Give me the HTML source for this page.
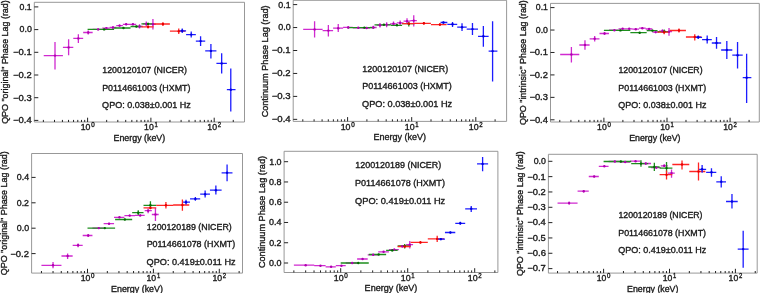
<!DOCTYPE html>
<html><head><meta charset="utf-8"><style>
html,body{margin:0;padding:0;background:#fff;width:760px;height:293px;overflow:hidden}
svg{display:block;font-family:"Liberation Sans",sans-serif;-webkit-font-smoothing:antialiased;will-change:transform}
</style></head><body><div id="w">
<svg width="760" height="293" viewBox="0 0 760 293" font-family='Liberation Sans, sans-serif' fill="#1a1a1a" stroke-linejoin="round">
<g><path d="M43.73 55.6H62.91M55 42V69.6M62.91 47.4H73.29M68.61 39.2V55.3M73.29 38.4H83.17M78.36 34.3V43.1M83.17 32.5H92.66M88.23 30.4V34.5M92.66 29.4H102.29M98.17 28.6V30.2M102.29 28.1H109.69M106.4 27.2V29M109.69 27.5H116.27M112.98 26.3V29.2M116.27 25.6H122.86M119.57 24.5V26.7M122.86 24.3H129.5M126.15 23.3V25.3M129.5 24.3H136.21M132.92 23.3V25.3M136.21 26.5H142.86M139.51 24.3V28.6M142.86 23.9H149.63M146.28 21.4V26.2M149.63 24.2H155.96M152.93 19V29.6" stroke="#d02ad0" stroke-width="1.3" fill="none"/>
<path d="M87.6 29.4H114.12M104.18 29V29.8M114.12 28H130.52M123.49 27.5V28.5M130.52 26.5H141.41M136.34 25.8V27.2M141.41 23.9H153.69M148.05 22.8V25" stroke="#1e8e1e" stroke-width="1.3" fill="none"/>
<path d="M141.41 26.8H153.62M148.05 25.5V28.4M153.62 24H169.89M162.93 22.2V25.9M169.89 31.2H185.34M178.75 28.4V34" stroke="#ff2424" stroke-width="1.3" fill="none"/>
<path d="M179.38 30.8H186.09M182.23 28.4V32.9M186.09 34.6H195.84M191.22 31.6V37.5M195.84 41.1H205.21M200.59 36.3V45.9M205.21 50.9H216.42M210.91 43.9V58.4M216.42 63.4H226.86M221.67 53.2V73.5M226.86 89.7H235.53M230.78 68.4V111.4" stroke="#1c1cff" stroke-width="1.3" fill="none"/>
<g fill="#b000b0"><circle cx="55" cy="55.6" r="1.2"/><circle cx="68.61" cy="47.4" r="1.2"/><circle cx="78.36" cy="38.4" r="1.2"/><circle cx="88.23" cy="32.5" r="1.2"/><circle cx="98.17" cy="29.4" r="1.2"/><circle cx="106.4" cy="28.1" r="1.2"/><circle cx="112.98" cy="27.5" r="1.2"/><circle cx="119.57" cy="25.6" r="1.2"/><circle cx="126.15" cy="24.3" r="1.2"/><circle cx="132.92" cy="24.3" r="1.2"/><circle cx="139.51" cy="26.5" r="1.2"/><circle cx="146.28" cy="23.9" r="1.2"/><circle cx="152.93" cy="24.2" r="1.2"/></g>
<g fill="#006a00"><circle cx="104.18" cy="29.4" r="1.2"/><circle cx="123.49" cy="28" r="1.2"/><circle cx="136.34" cy="26.5" r="1.2"/><circle cx="148.05" cy="23.9" r="1.2"/></g>
<g fill="#e80000"><circle cx="148.05" cy="26.8" r="1.2"/><circle cx="162.93" cy="24" r="1.2"/><circle cx="178.75" cy="31.2" r="1.2"/></g>
<g fill="#0000e0"><circle cx="182.23" cy="30.8" r="1.2"/><circle cx="191.22" cy="34.6" r="1.2"/><circle cx="200.59" cy="41.1" r="1.2"/><circle cx="210.91" cy="50.9" r="1.2"/><circle cx="221.67" cy="63.4" r="1.2"/><circle cx="230.78" cy="89.7" r="1.2"/></g>
<rect x="34.3" y="2.3" width="210.2" height="119.7" fill="none" stroke="#8c8c8c" stroke-width="0.9"/>
<path d="M43.36 122V119.9M54.5 122V119.9M62.41 122V119.9M68.54 122V119.9M73.56 122V119.9M77.79 122V119.9M81.47 122V119.9M84.7 122V119.9M87.6 122V117.7M106.66 122V119.9M117.8 122V119.9M125.71 122V119.9M131.84 122V119.9M136.86 122V119.9M141.09 122V119.9M144.77 122V119.9M148 122V119.9M150.9 122V117.7M169.96 122V119.9M181.1 122V119.9M189.01 122V119.9M195.14 122V119.9M200.16 122V119.9M204.39 122V119.9M208.07 122V119.9M211.3 122V119.9M214.2 122V117.7M233.26 122V119.9M34.3 6.9H38.3M34.3 29.6H38.3M34.3 52.3H38.3M34.3 75H38.3M34.3 97.7H38.3M34.3 120.4H38.3" stroke="#222" stroke-width="1" fill="none"/>
<text x="19.54" y="9.79" font-size="8.75" textLength="12.14" lengthAdjust="spacingAndGlyphs" stroke="#1a1a1a" stroke-width="0.36">0.1</text>
<text x="19.54" y="32.49" font-size="8.75" textLength="12.25" lengthAdjust="spacingAndGlyphs" stroke="#1a1a1a" stroke-width="0.36">0.0</text>
<text x="13.09" y="55.19" font-size="8.75" textLength="18.59" lengthAdjust="spacingAndGlyphs" stroke="#1a1a1a" stroke-width="0.36">−0.1</text>
<text x="13.09" y="77.89" font-size="8.75" textLength="18.56" lengthAdjust="spacingAndGlyphs" stroke="#1a1a1a" stroke-width="0.36">−0.2</text>
<text x="13.08" y="100.59" font-size="8.75" textLength="18.62" lengthAdjust="spacingAndGlyphs" stroke="#1a1a1a" stroke-width="0.36">−0.3</text>
<text x="13.08" y="123.29" font-size="8.75" textLength="18.68" lengthAdjust="spacingAndGlyphs" stroke="#1a1a1a" stroke-width="0.36">−0.4</text>
<text x="80.76" y="130.3" font-size="8.75" textLength="9.67" lengthAdjust="spacingAndGlyphs" stroke="#1a1a1a" stroke-width="0.36">10</text>
<text x="91.13" y="127.2" font-size="6.49" textLength="3.45" lengthAdjust="spacingAndGlyphs" stroke="#1a1a1a" stroke-width="0.36">0</text>
<text x="144.06" y="130.3" font-size="8.75" textLength="9.67" lengthAdjust="spacingAndGlyphs" stroke="#1a1a1a" stroke-width="0.36">10</text>
<text x="154.5" y="127.2" font-size="6.49" textLength="3.28" lengthAdjust="spacingAndGlyphs" stroke="#1a1a1a" stroke-width="0.36">1</text>
<text x="207.36" y="130.3" font-size="8.75" textLength="9.67" lengthAdjust="spacingAndGlyphs" stroke="#1a1a1a" stroke-width="0.36">10</text>
<text x="217.71" y="127.2" font-size="6.49" textLength="3.35" lengthAdjust="spacingAndGlyphs" stroke="#1a1a1a" stroke-width="0.36">2</text>
<text x="113.47" y="140.6" font-size="8.89" textLength="51.76" lengthAdjust="spacingAndGlyphs" stroke="#1a1a1a" stroke-width="0.36">Energy (keV)</text>
<g transform="translate(8.3 62) rotate(-90)"><text x="-61.83" y="0" font-size="8.89" textLength="123.57" lengthAdjust="spacingAndGlyphs" stroke="#1a1a1a" stroke-width="0.36">QPO &quot;original&quot; Phase Lag (rad)</text></g>
<text x="102.33" y="72.8" font-size="8.89" textLength="84.59" lengthAdjust="spacingAndGlyphs" stroke="#1a1a1a" stroke-width="0.36">1200120107 (NICER)</text>
<text x="102.15" y="90.6" font-size="8.89" textLength="88.36" lengthAdjust="spacingAndGlyphs" stroke="#1a1a1a" stroke-width="0.36">P0114661003 (HXMT)</text>
<text x="102.14" y="108.3" font-size="8.89" textLength="88.66" lengthAdjust="spacingAndGlyphs" stroke="#1a1a1a" stroke-width="0.36">QPO: 0.038±0.001 Hz</text></g>
<g><path d="M303.18 29.4H322.6M314.59 21.2V37.4M322.6 30.6H333.11M328.37 25V36.6M333.11 28.2H343.11M338.24 24.1V32M343.11 27.4H352.73M348.24 25.9V29M352.73 27.8H362.47M358.3 27V28.6M362.47 28H369.97M366.64 27.2V28.8M369.97 27.5H376.64M373.3 25.7V29.1M376.64 25.2H383.3M379.97 23.1V27.4M383.3 24.6H390.03M386.64 22.3V27.2M390.03 23.8H396.83M393.5 21.4V26.1M396.83 22.9H403.56M400.16 20.4V25.5M403.56 21.2H410.42M407.02 18.3V23.4M410.42 20.6H416.83M413.75 15.2V26.5" stroke="#d02ad0" stroke-width="1.3" fill="none"/>
<path d="M347.6 27.6H374.46M364.39 27.2V28M374.46 24.8H391.06M383.94 24V25.6M391.06 25.3H402.09M396.96 24.5V26M402.09 23.7H414.52M408.82 22.4V26.5" stroke="#1e8e1e" stroke-width="1.3" fill="none"/>
<path d="M402.09 23.7H414.46M408.82 22.5V25M414.46 23.3H430.93M423.88 22V24.8M430.93 24.6H446.57M439.9 23V26" stroke="#ff2424" stroke-width="1.3" fill="none"/>
<path d="M440.55 22.5H447.34M443.43 21.5V23.8M447.34 24.3H457.21M452.53 22.1V26.9M457.21 27.2H466.7M462.02 23.3V31M466.7 29.1H478.04M472.47 23.1V35.1M478.04 36.3H488.62M483.36 26V46.8M488.62 51.1H497.4M492.59 21.2V81.6" stroke="#1c1cff" stroke-width="1.3" fill="none"/>
<g fill="#b000b0"><circle cx="314.59" cy="29.4" r="1.2"/><circle cx="328.37" cy="30.6" r="1.2"/><circle cx="338.24" cy="28.2" r="1.2"/><circle cx="348.24" cy="27.4" r="1.2"/><circle cx="358.3" cy="27.8" r="1.2"/><circle cx="366.64" cy="28" r="1.2"/><circle cx="373.3" cy="27.5" r="1.2"/><circle cx="379.97" cy="25.2" r="1.2"/><circle cx="386.64" cy="24.6" r="1.2"/><circle cx="393.5" cy="23.8" r="1.2"/><circle cx="400.16" cy="22.9" r="1.2"/><circle cx="407.02" cy="21.2" r="1.2"/><circle cx="413.75" cy="20.6" r="1.2"/></g>
<g fill="#006a00"><circle cx="364.39" cy="27.6" r="1.2"/><circle cx="383.94" cy="24.8" r="1.2"/><circle cx="396.96" cy="25.3" r="1.2"/><circle cx="408.82" cy="23.7" r="1.2"/></g>
<g fill="#e80000"><circle cx="408.82" cy="23.7" r="1.2"/><circle cx="423.88" cy="23.3" r="1.2"/><circle cx="439.9" cy="24.6" r="1.2"/></g>
<g fill="#0000e0"><circle cx="443.43" cy="22.5" r="1.2"/><circle cx="452.53" cy="24.3" r="1.2"/><circle cx="462.02" cy="27.2" r="1.2"/><circle cx="472.47" cy="29.1" r="1.2"/><circle cx="483.36" cy="36.3" r="1.2"/><circle cx="492.59" cy="51.1" r="1.2"/></g>
<rect x="293.2" y="0.3" width="213.4" height="121.1" fill="none" stroke="#8c8c8c" stroke-width="0.9"/>
<path d="M302.8 121.4V119.3M314.08 121.4V119.3M322.09 121.4V119.3M328.3 121.4V119.3M333.38 121.4V119.3M337.67 121.4V119.3M341.39 121.4V119.3M344.67 121.4V119.3M347.6 121.4V117.1M366.9 121.4V119.3M378.18 121.4V119.3M386.19 121.4V119.3M392.4 121.4V119.3M397.48 121.4V119.3M401.77 121.4V119.3M405.49 121.4V119.3M408.77 121.4V119.3M411.7 121.4V117.1M431 121.4V119.3M442.28 121.4V119.3M450.29 121.4V119.3M456.5 121.4V119.3M461.58 121.4V119.3M465.87 121.4V119.3M469.59 121.4V119.3M472.87 121.4V119.3M475.8 121.4V117.1M495.1 121.4V119.3M293.2 4.6H297.2M293.2 27.55H297.2M293.2 50.5H297.2M293.2 73.45H297.2M293.2 96.4H297.2M293.2 119.35H297.2" stroke="#222" stroke-width="1" fill="none"/>
<text x="278.25" y="7.54" font-size="8.88" textLength="12.32" lengthAdjust="spacingAndGlyphs" stroke="#1a1a1a" stroke-width="0.36">0.1</text>
<text x="278.25" y="30.49" font-size="8.88" textLength="12.44" lengthAdjust="spacingAndGlyphs" stroke="#1a1a1a" stroke-width="0.36">0.0</text>
<text x="271.7" y="53.44" font-size="8.88" textLength="18.87" lengthAdjust="spacingAndGlyphs" stroke="#1a1a1a" stroke-width="0.36">−0.1</text>
<text x="271.7" y="76.39" font-size="8.88" textLength="18.84" lengthAdjust="spacingAndGlyphs" stroke="#1a1a1a" stroke-width="0.36">−0.2</text>
<text x="271.7" y="99.34" font-size="8.88" textLength="18.91" lengthAdjust="spacingAndGlyphs" stroke="#1a1a1a" stroke-width="0.36">−0.3</text>
<text x="271.7" y="122.29" font-size="8.88" textLength="18.97" lengthAdjust="spacingAndGlyphs" stroke="#1a1a1a" stroke-width="0.36">−0.4</text>
<text x="340.66" y="129.7" font-size="8.88" textLength="9.82" lengthAdjust="spacingAndGlyphs" stroke="#1a1a1a" stroke-width="0.36">10</text>
<text x="351.18" y="126.6" font-size="6.59" textLength="3.5" lengthAdjust="spacingAndGlyphs" stroke="#1a1a1a" stroke-width="0.36">0</text>
<text x="404.76" y="129.7" font-size="8.88" textLength="9.82" lengthAdjust="spacingAndGlyphs" stroke="#1a1a1a" stroke-width="0.36">10</text>
<text x="415.36" y="126.6" font-size="6.59" textLength="3.33" lengthAdjust="spacingAndGlyphs" stroke="#1a1a1a" stroke-width="0.36">1</text>
<text x="468.86" y="129.7" font-size="8.88" textLength="9.82" lengthAdjust="spacingAndGlyphs" stroke="#1a1a1a" stroke-width="0.36">10</text>
<text x="479.36" y="126.6" font-size="6.59" textLength="3.4" lengthAdjust="spacingAndGlyphs" stroke="#1a1a1a" stroke-width="0.36">2</text>
<text x="373.57" y="140" font-size="9.03" textLength="52.54" lengthAdjust="spacingAndGlyphs" stroke="#1a1a1a" stroke-width="0.36">Energy (keV)</text>
<g transform="translate(267.5 61.35) rotate(-90)"><text x="-56" y="0" font-size="9.03" textLength="111.92" lengthAdjust="spacingAndGlyphs" stroke="#1a1a1a" stroke-width="0.36">Continuum Phase Lag (rad)</text></g>
<text x="362.33" y="71.5" font-size="9.03" textLength="85.88" lengthAdjust="spacingAndGlyphs" stroke="#1a1a1a" stroke-width="0.36">1200120107 (NICER)</text>
<text x="362.16" y="89.3" font-size="9.03" textLength="89.7" lengthAdjust="spacingAndGlyphs" stroke="#1a1a1a" stroke-width="0.36">P0114661003 (HXMT)</text>
<text x="362.14" y="107.1" font-size="9.03" textLength="90.01" lengthAdjust="spacingAndGlyphs" stroke="#1a1a1a" stroke-width="0.36">QPO: 0.038±0.001 Hz</text></g>
<g><path d="M560.17 54.5H579.29M571.4 47V62.6M579.29 45H589.64M584.97 40.2V49.7M589.64 38.8H599.48M594.69 36V41.6M599.48 33.5H608.95M604.53 32V35M608.95 30.2H618.54M614.44 29.4V31M618.54 28.8H625.92M622.64 28V29.6M625.92 28.8H632.48M629.2 28V29.6M632.48 29.2H639.05M635.77 28.3V30.1M639.05 28.2H645.67M642.33 27.3V29.1M645.67 29H652.36M649.08 28V30M652.36 32.1H658.99M655.64 31V33.2M658.99 31.1H665.74M662.39 29.2V33M665.74 31.6H672.05M669.02 28.1V35.7" stroke="#d02ad0" stroke-width="1.3" fill="none"/>
<path d="M603.9 30.4H630.34M620.43 30V30.8M630.34 32.7H646.68M639.68 32V33.4M646.68 30.6H657.53M652.49 29.8V31.4M657.53 31.6H669.78M664.16 29.5V33.5" stroke="#1e8e1e" stroke-width="1.3" fill="none"/>
<path d="M657.53 32.1H669.71M664.16 30.6V34.2M669.71 30.5H685.93M678.99 28.5V32.5M685.93 37H701.33M694.76 34.2V40.4" stroke="#ff2424" stroke-width="1.3" fill="none"/>
<path d="M695.39 37.3H702.08M698.23 35.5V39M702.08 39.6H711.8M707.19 35.4V43.4M711.8 43H721.14M716.53 37V48.8M721.14 50H732.31M726.82 41.1V59.1M732.31 55.2H742.72M737.55 42.1V68.5M742.72 77.7H751.36M746.63 53.8V102.9" stroke="#1c1cff" stroke-width="1.3" fill="none"/>
<g fill="#b000b0"><circle cx="571.4" cy="54.5" r="1.2"/><circle cx="584.97" cy="45" r="1.2"/><circle cx="594.69" cy="38.8" r="1.2"/><circle cx="604.53" cy="33.5" r="1.2"/><circle cx="614.44" cy="30.2" r="1.2"/><circle cx="622.64" cy="28.8" r="1.2"/><circle cx="629.2" cy="28.8" r="1.2"/><circle cx="635.77" cy="29.2" r="1.2"/><circle cx="642.33" cy="28.2" r="1.2"/><circle cx="649.08" cy="29" r="1.2"/><circle cx="655.64" cy="32.1" r="1.2"/><circle cx="662.39" cy="31.1" r="1.2"/><circle cx="669.02" cy="31.6" r="1.2"/></g>
<g fill="#006a00"><circle cx="620.43" cy="30.4" r="1.2"/><circle cx="639.68" cy="32.7" r="1.2"/><circle cx="652.49" cy="30.6" r="1.2"/><circle cx="664.16" cy="31.6" r="1.2"/></g>
<g fill="#e80000"><circle cx="664.16" cy="32.1" r="1.2"/><circle cx="678.99" cy="30.5" r="1.2"/><circle cx="694.76" cy="37" r="1.2"/></g>
<g fill="#0000e0"><circle cx="698.23" cy="37.3" r="1.2"/><circle cx="707.19" cy="39.6" r="1.2"/><circle cx="716.53" cy="43" r="1.2"/><circle cx="726.82" cy="50" r="1.2"/><circle cx="737.55" cy="55.2" r="1.2"/><circle cx="746.63" cy="77.7" r="1.2"/></g>
<rect x="550.5" y="3.4" width="208.8" height="118.6" fill="none" stroke="#8c8c8c" stroke-width="0.9"/>
<path d="M559.79 122V119.9M570.91 122V119.9M578.79 122V119.9M584.91 122V119.9M589.9 122V119.9M594.13 122V119.9M597.78 122V119.9M601.01 122V119.9M603.9 122V117.7M622.89 122V119.9M634.01 122V119.9M641.89 122V119.9M648.01 122V119.9M653 122V119.9M657.23 122V119.9M660.88 122V119.9M664.11 122V119.9M667 122V117.7M685.99 122V119.9M697.11 122V119.9M704.99 122V119.9M711.11 122V119.9M716.1 122V119.9M720.33 122V119.9M723.98 122V119.9M727.21 122V119.9M730.1 122V117.7M749.09 122V119.9M550.5 7.6H554.5M550.5 30.04H554.5M550.5 52.48H554.5M550.5 74.92H554.5M550.5 97.36H554.5M550.5 119.8H554.5" stroke="#222" stroke-width="1" fill="none"/>
<text x="535.82" y="10.47" font-size="8.69" textLength="12.05" lengthAdjust="spacingAndGlyphs" stroke="#1a1a1a" stroke-width="0.36">0.1</text>
<text x="535.82" y="32.91" font-size="8.69" textLength="12.17" lengthAdjust="spacingAndGlyphs" stroke="#1a1a1a" stroke-width="0.36">0.0</text>
<text x="529.41" y="55.35" font-size="8.69" textLength="18.47" lengthAdjust="spacingAndGlyphs" stroke="#1a1a1a" stroke-width="0.36">−0.1</text>
<text x="529.41" y="77.79" font-size="8.69" textLength="18.43" lengthAdjust="spacingAndGlyphs" stroke="#1a1a1a" stroke-width="0.36">−0.2</text>
<text x="529.41" y="100.23" font-size="8.69" textLength="18.5" lengthAdjust="spacingAndGlyphs" stroke="#1a1a1a" stroke-width="0.36">−0.3</text>
<text x="529.41" y="122.67" font-size="8.69" textLength="18.56" lengthAdjust="spacingAndGlyphs" stroke="#1a1a1a" stroke-width="0.36">−0.4</text>
<text x="597.11" y="130.3" font-size="8.69" textLength="9.61" lengthAdjust="spacingAndGlyphs" stroke="#1a1a1a" stroke-width="0.36">10</text>
<text x="607.41" y="127.2" font-size="6.45" textLength="3.42" lengthAdjust="spacingAndGlyphs" stroke="#1a1a1a" stroke-width="0.36">0</text>
<text x="660.21" y="130.3" font-size="8.69" textLength="9.61" lengthAdjust="spacingAndGlyphs" stroke="#1a1a1a" stroke-width="0.36">10</text>
<text x="670.58" y="127.2" font-size="6.45" textLength="3.25" lengthAdjust="spacingAndGlyphs" stroke="#1a1a1a" stroke-width="0.36">1</text>
<text x="723.31" y="130.3" font-size="8.69" textLength="9.61" lengthAdjust="spacingAndGlyphs" stroke="#1a1a1a" stroke-width="0.36">10</text>
<text x="733.58" y="127.2" font-size="6.45" textLength="3.33" lengthAdjust="spacingAndGlyphs" stroke="#1a1a1a" stroke-width="0.36">2</text>
<text x="629.14" y="140.6" font-size="8.83" textLength="51.41" lengthAdjust="spacingAndGlyphs" stroke="#1a1a1a" stroke-width="0.36">Energy (keV)</text>
<g transform="translate(525.7 62.6) rotate(-90)"><text x="-62.37" y="0" font-size="8.83" textLength="124.68" lengthAdjust="spacingAndGlyphs" stroke="#1a1a1a" stroke-width="0.36">QPO &quot;intrinsic&quot; Phase Lag (rad)</text></g>
<text x="618.53" y="73" font-size="8.83" textLength="84.03" lengthAdjust="spacingAndGlyphs" stroke="#1a1a1a" stroke-width="0.36">1200120107 (NICER)</text>
<text x="618.35" y="90.5" font-size="8.83" textLength="87.77" lengthAdjust="spacingAndGlyphs" stroke="#1a1a1a" stroke-width="0.36">P0114661003 (HXMT)</text>
<text x="618.34" y="108.3" font-size="8.83" textLength="88.07" lengthAdjust="spacingAndGlyphs" stroke="#1a1a1a" stroke-width="0.36">QPO: 0.038±0.001 Hz</text></g>
<g><path d="M41.44 265.3H61.47M53.03 262.1V268.2M61.47 256H72.67M67.6 253.5V259M72.67 245.3H82.69M78.08 243.5V247.3M82.69 235.5H92.44M88.22 234V237M92.44 228.1H103.65M98.77 227.5V228.7M103.65 223.7H114.06M109.05 222.8V224.6M114.06 217.3H124.4M119.46 216.4V218.2M124.4 215.6H134.95M129.68 214.6V216.6M134.95 215.4H144.7M140.22 214.4V216.4M144.7 210.7H151.82M148.13 208.5V213.3M151.82 214.5H158.67M155.44 207.9V221.1" stroke="#d02ad0" stroke-width="1.3" fill="none"/>
<path d="M87.5 228.1H115.11M104.77 227.7V228.5M115.11 219.5H132.18M124.87 218.7V220.3M132.18 212.7H143.51M138.24 210.3V215.1M143.51 205.3H156.3M150.43 201.3V207.9" stroke="#1e8e1e" stroke-width="1.3" fill="none"/>
<path d="M143.51 207.9H156.23M150.43 206.5V209.3M156.23 205.3H173.17M165.92 201.9V208.5M173.17 205H189.25M182.4 199.4V210.7" stroke="#ff2424" stroke-width="1.3" fill="none"/>
<path d="M183.06 202.2H190.04M186.02 199.8V204.6M190.04 198.9H200.19M195.38 197V200.8M200.19 194.2H209.94M205.13 190.4V197.5M209.94 190.2H221.61M215.87 185.6V194.6M221.61 172.8H232.48M227.08 164.5V181.2" stroke="#1c1cff" stroke-width="1.3" fill="none"/>
<g fill="#b000b0"><circle cx="53.03" cy="265.3" r="1.2"/><circle cx="67.6" cy="256" r="1.2"/><circle cx="78.08" cy="245.3" r="1.2"/><circle cx="88.22" cy="235.5" r="1.2"/><circle cx="98.77" cy="228.1" r="1.2"/><circle cx="109.05" cy="223.7" r="1.2"/><circle cx="119.46" cy="217.3" r="1.2"/><circle cx="129.68" cy="215.6" r="1.2"/><circle cx="140.22" cy="215.4" r="1.2"/><circle cx="148.13" cy="210.7" r="1.2"/><circle cx="155.44" cy="214.5" r="1.2"/></g>
<g fill="#006a00"><circle cx="104.77" cy="228.1" r="1.2"/><circle cx="124.87" cy="219.5" r="1.2"/><circle cx="138.24" cy="212.7" r="1.2"/><circle cx="150.43" cy="205.3" r="1.2"/></g>
<g fill="#e80000"><circle cx="150.43" cy="207.9" r="1.2"/><circle cx="165.92" cy="205.3" r="1.2"/><circle cx="182.4" cy="205" r="1.2"/></g>
<g fill="#0000e0"><circle cx="186.02" cy="202.2" r="1.2"/><circle cx="195.38" cy="198.9" r="1.2"/><circle cx="205.13" cy="194.2" r="1.2"/><circle cx="215.87" cy="190.2" r="1.2"/><circle cx="227.08" cy="172.8" r="1.2"/></g>
<rect x="31.6" y="153.5" width="210.9" height="119.6" fill="none" stroke="#8c8c8c" stroke-width="0.9"/>
<path d="M41.44 273.1V271M53.04 273.1V271M61.28 273.1V271M67.66 273.1V271M72.88 273.1V271M77.29 273.1V271M81.11 273.1V271M84.48 273.1V271M87.5 273.1V268.8M107.34 273.1V271M118.94 273.1V271M127.18 273.1V271M133.56 273.1V271M138.78 273.1V271M143.19 273.1V271M147.01 273.1V271M150.38 273.1V271M153.4 273.1V268.8M173.24 273.1V271M184.84 273.1V271M193.08 273.1V271M199.46 273.1V271M204.68 273.1V271M209.09 273.1V271M212.91 273.1V271M216.28 273.1V271M219.3 273.1V268.8M239.14 273.1V271M31.6 177.4H35.6M31.6 202.8H35.6M31.6 228.2H35.6M31.6 253.6H35.6" stroke="#222" stroke-width="1" fill="none"/>
<text x="16.8" y="180.3" font-size="8.78" textLength="12.28" lengthAdjust="spacingAndGlyphs" stroke="#1a1a1a" stroke-width="0.36">0.4</text>
<text x="16.8" y="205.7" font-size="8.78" textLength="12.14" lengthAdjust="spacingAndGlyphs" stroke="#1a1a1a" stroke-width="0.36">0.2</text>
<text x="16.8" y="231.1" font-size="8.78" textLength="12.29" lengthAdjust="spacingAndGlyphs" stroke="#1a1a1a" stroke-width="0.36">0.0</text>
<text x="10.32" y="256.5" font-size="8.78" textLength="18.62" lengthAdjust="spacingAndGlyphs" stroke="#1a1a1a" stroke-width="0.36">−0.2</text>
<text x="80.64" y="281.4" font-size="8.78" textLength="9.7" lengthAdjust="spacingAndGlyphs" stroke="#1a1a1a" stroke-width="0.36">10</text>
<text x="91.04" y="278.3" font-size="6.51" textLength="3.46" lengthAdjust="spacingAndGlyphs" stroke="#1a1a1a" stroke-width="0.36">0</text>
<text x="146.54" y="281.4" font-size="8.78" textLength="9.7" lengthAdjust="spacingAndGlyphs" stroke="#1a1a1a" stroke-width="0.36">10</text>
<text x="157.01" y="278.3" font-size="6.51" textLength="3.29" lengthAdjust="spacingAndGlyphs" stroke="#1a1a1a" stroke-width="0.36">1</text>
<text x="212.44" y="281.4" font-size="8.78" textLength="9.7" lengthAdjust="spacingAndGlyphs" stroke="#1a1a1a" stroke-width="0.36">10</text>
<text x="222.82" y="278.3" font-size="6.51" textLength="3.36" lengthAdjust="spacingAndGlyphs" stroke="#1a1a1a" stroke-width="0.36">2</text>
<text x="111.03" y="291.7" font-size="8.92" textLength="51.93" lengthAdjust="spacingAndGlyphs" stroke="#1a1a1a" stroke-width="0.36">Energy (keV)</text>
<g transform="translate(6.7 213.2) rotate(-90)"><text x="-62.03" y="0" font-size="8.92" textLength="123.98" lengthAdjust="spacingAndGlyphs" stroke="#1a1a1a" stroke-width="0.36">QPO &quot;original&quot; Phase Lag (rad)</text></g>
<text x="146.83" y="229.5" font-size="8.92" textLength="84.87" lengthAdjust="spacingAndGlyphs" stroke="#1a1a1a" stroke-width="0.36">1200120189 (NICER)</text>
<text x="146.65" y="247.3" font-size="8.92" textLength="88.65" lengthAdjust="spacingAndGlyphs" stroke="#1a1a1a" stroke-width="0.36">P0114661078 (HXMT)</text>
<text x="146.64" y="264.9" font-size="8.92" textLength="88.92" lengthAdjust="spacingAndGlyphs" stroke="#1a1a1a" stroke-width="0.36">QPO: 0.419±0.011 Hz</text></g>
<g><path d="M293.87 265.2H314.24M305.66 264.5V265.9M314.24 265.7H325.62M320.47 265V266.4M325.62 266.8H335.81M331.12 266.1V267.5M335.81 265.7H345.72M341.44 265V266.4M345.72 263H357.12M352.16 262.4V263.6M357.12 259H367.7M362.61 258.3V259.7M367.7 254.8H378.22M373.19 254V255.6M378.22 251.8H388.94M383.58 250.9V252.7M388.94 249.6H398.86M394.3 248.6V250.6M398.86 246.3H406.09M402.34 245.1V247.5M406.09 244.7H413.06M409.78 240.9V248.5" stroke="#d02ad0" stroke-width="1.3" fill="none"/>
<path d="M340.7 263H368.77M358.25 262.6V263.4M368.77 254.5H386.13M378.69 253.9V255.1M386.13 250.4H397.65M392.29 249.5V251.3M397.65 246H410.65M404.69 243.9V248.5" stroke="#1e8e1e" stroke-width="1.3" fill="none"/>
<path d="M397.65 246.5H410.58M404.69 245.5V247.5M410.58 242.4H427.8M420.43 241V243.8M427.8 238.9H444.15M437.18 235.8V241.9" stroke="#ff2424" stroke-width="1.3" fill="none"/>
<path d="M437.85 239.1H444.95M440.87 238V240.2M444.95 232.5H455.27M450.38 231.5V233.5M455.27 223.3H465.19M460.29 221.8V224.8M465.19 208.8H477.04M471.22 206.1V212M477.04 163.9H488.1M482.61 157.1V171.3" stroke="#1c1cff" stroke-width="1.3" fill="none"/>
<g fill="#b000b0"><circle cx="305.66" cy="265.2" r="1.2"/><circle cx="320.47" cy="265.7" r="1.2"/><circle cx="331.12" cy="266.8" r="1.2"/><circle cx="341.44" cy="265.7" r="1.2"/><circle cx="352.16" cy="263" r="1.2"/><circle cx="362.61" cy="259" r="1.2"/><circle cx="373.19" cy="254.8" r="1.2"/><circle cx="383.58" cy="251.8" r="1.2"/><circle cx="394.3" cy="249.6" r="1.2"/><circle cx="402.34" cy="246.3" r="1.2"/><circle cx="409.78" cy="244.7" r="1.2"/></g>
<g fill="#006a00"><circle cx="358.25" cy="263" r="1.2"/><circle cx="378.69" cy="254.5" r="1.2"/><circle cx="392.29" cy="250.4" r="1.2"/><circle cx="404.69" cy="246" r="1.2"/></g>
<g fill="#e80000"><circle cx="404.69" cy="246.5" r="1.2"/><circle cx="420.43" cy="242.4" r="1.2"/><circle cx="437.18" cy="238.9" r="1.2"/></g>
<g fill="#0000e0"><circle cx="440.87" cy="239.1" r="1.2"/><circle cx="450.38" cy="232.5" r="1.2"/><circle cx="460.29" cy="223.3" r="1.2"/><circle cx="471.22" cy="208.8" r="1.2"/><circle cx="482.61" cy="163.9" r="1.2"/></g>
<rect x="284.1" y="151.3" width="213.8" height="121.2" fill="none" stroke="#8c8c8c" stroke-width="0.9"/>
<path d="M293.87 272.5V270.4M305.67 272.5V270.4M314.04 272.5V270.4M320.53 272.5V270.4M325.84 272.5V270.4M330.32 272.5V270.4M334.21 272.5V270.4M337.63 272.5V270.4M340.7 272.5V268.2M360.87 272.5V270.4M372.67 272.5V270.4M381.04 272.5V270.4M387.53 272.5V270.4M392.84 272.5V270.4M397.32 272.5V270.4M401.21 272.5V270.4M404.63 272.5V270.4M407.7 272.5V268.2M427.87 272.5V270.4M439.67 272.5V270.4M448.04 272.5V270.4M454.53 272.5V270.4M459.84 272.5V270.4M464.32 272.5V270.4M468.21 272.5V270.4M471.63 272.5V270.4M474.7 272.5V268.2M494.87 272.5V270.4M284.1 161.7H288.1M284.1 181.96H288.1M284.1 202.22H288.1M284.1 222.48H288.1M284.1 242.74H288.1M284.1 263H288.1" stroke="#222" stroke-width="1" fill="none"/>
<text x="269.18" y="164.64" font-size="8.9" textLength="12.41" lengthAdjust="spacingAndGlyphs" stroke="#1a1a1a" stroke-width="0.36">1.0</text>
<text x="269.12" y="184.9" font-size="8.9" textLength="12.51" lengthAdjust="spacingAndGlyphs" stroke="#1a1a1a" stroke-width="0.36">0.8</text>
<text x="269.12" y="205.16" font-size="8.9" textLength="12.55" lengthAdjust="spacingAndGlyphs" stroke="#1a1a1a" stroke-width="0.36">0.6</text>
<text x="269.12" y="225.42" font-size="8.9" textLength="12.45" lengthAdjust="spacingAndGlyphs" stroke="#1a1a1a" stroke-width="0.36">0.4</text>
<text x="269.13" y="245.68" font-size="8.9" textLength="12.3" lengthAdjust="spacingAndGlyphs" stroke="#1a1a1a" stroke-width="0.36">0.2</text>
<text x="269.12" y="265.94" font-size="8.9" textLength="12.46" lengthAdjust="spacingAndGlyphs" stroke="#1a1a1a" stroke-width="0.36">0.0</text>
<text x="333.74" y="280.8" font-size="8.9" textLength="9.84" lengthAdjust="spacingAndGlyphs" stroke="#1a1a1a" stroke-width="0.36">10</text>
<text x="344.29" y="277.7" font-size="6.6" textLength="3.51" lengthAdjust="spacingAndGlyphs" stroke="#1a1a1a" stroke-width="0.36">0</text>
<text x="400.74" y="280.8" font-size="8.9" textLength="9.84" lengthAdjust="spacingAndGlyphs" stroke="#1a1a1a" stroke-width="0.36">10</text>
<text x="411.36" y="277.7" font-size="6.6" textLength="3.33" lengthAdjust="spacingAndGlyphs" stroke="#1a1a1a" stroke-width="0.36">1</text>
<text x="467.74" y="280.8" font-size="8.9" textLength="9.84" lengthAdjust="spacingAndGlyphs" stroke="#1a1a1a" stroke-width="0.36">10</text>
<text x="478.27" y="277.7" font-size="6.6" textLength="3.41" lengthAdjust="spacingAndGlyphs" stroke="#1a1a1a" stroke-width="0.36">2</text>
<text x="364.62" y="291.1" font-size="9.04" textLength="52.64" lengthAdjust="spacingAndGlyphs" stroke="#1a1a1a" stroke-width="0.36">Energy (keV)</text>
<g transform="translate(265 212) rotate(-90)"><text x="-56.11" y="0" font-size="9.04" textLength="112.13" lengthAdjust="spacingAndGlyphs" stroke="#1a1a1a" stroke-width="0.36">Continuum Phase Lag (rad)</text></g>
<text x="355.23" y="167.7" font-size="9.04" textLength="86.04" lengthAdjust="spacingAndGlyphs" stroke="#1a1a1a" stroke-width="0.36">1200120189 (NICER)</text>
<text x="355.06" y="186.1" font-size="9.04" textLength="89.87" lengthAdjust="spacingAndGlyphs" stroke="#1a1a1a" stroke-width="0.36">P0114661078 (HXMT)</text>
<text x="355.04" y="204.3" font-size="9.04" textLength="90.15" lengthAdjust="spacingAndGlyphs" stroke="#1a1a1a" stroke-width="0.36">QPO: 0.419±0.011 Hz</text></g>
<g><path d="M557.54 203.1H577.57M569.13 201.5V204.7M577.57 191.2H588.77M583.7 190V192.4M588.77 176.5H598.79M594.18 175.5V177.5M598.79 166.3H608.54M604.32 165.5V167.1M608.54 161.5H619.75M614.87 160.9V162.1M619.75 162H630.16M625.15 161.2V162.8M630.16 161.2H640.5M635.56 160.4V162M640.5 163.5H651.05M645.78 162.5V164.5M651.05 167.6H660.8M656.32 166.4V168.8M660.8 165.8H667.92M664.23 164.5V167M667.92 173.1H674.77M671.54 169.6V177.7" stroke="#d02ad0" stroke-width="1.3" fill="none"/>
<path d="M603.6 161.5H631.21M620.87 161.1V161.9M631.21 163.6H648.28M640.97 160.2V166.8M648.28 167H659.62M654.34 162.7V171.1M659.62 168.1H672.4M666.53 161.9V172.7" stroke="#1e8e1e" stroke-width="1.3" fill="none"/>
<path d="M659.62 174.7H672.33M666.53 170.4V179.6M672.33 164.5H689.27M682.02 160.4V169.6M689.27 171.5H705.35M698.5 162.6V180.4" stroke="#ff2424" stroke-width="1.3" fill="none"/>
<path d="M699.15 169.3H706.14M702.12 165.1V172.8M706.14 172.3H716.29M711.48 168.2V176.7M716.29 181.8H726.04M721.23 176.2V187.6M726.04 201.5H737.71M731.97 194.1V208.6M737.71 249.1H748.58M743.18 230.7V267.8" stroke="#1c1cff" stroke-width="1.3" fill="none"/>
<g fill="#b000b0"><circle cx="569.13" cy="203.1" r="1.2"/><circle cx="583.7" cy="191.2" r="1.2"/><circle cx="594.18" cy="176.5" r="1.2"/><circle cx="604.32" cy="166.3" r="1.2"/><circle cx="614.87" cy="161.5" r="1.2"/><circle cx="625.15" cy="162" r="1.2"/><circle cx="635.56" cy="161.2" r="1.2"/><circle cx="645.78" cy="163.5" r="1.2"/><circle cx="656.32" cy="167.6" r="1.2"/><circle cx="664.23" cy="165.8" r="1.2"/><circle cx="671.54" cy="173.1" r="1.2"/></g>
<g fill="#006a00"><circle cx="620.87" cy="161.5" r="1.2"/><circle cx="640.97" cy="163.6" r="1.2"/><circle cx="654.34" cy="167" r="1.2"/><circle cx="666.53" cy="168.1" r="1.2"/></g>
<g fill="#e80000"><circle cx="666.53" cy="174.7" r="1.2"/><circle cx="682.02" cy="164.5" r="1.2"/><circle cx="698.5" cy="171.5" r="1.2"/></g>
<g fill="#0000e0"><circle cx="702.12" cy="169.3" r="1.2"/><circle cx="711.48" cy="172.3" r="1.2"/><circle cx="721.23" cy="181.8" r="1.2"/><circle cx="731.97" cy="201.5" r="1.2"/><circle cx="743.18" cy="249.1" r="1.2"/></g>
<rect x="548.4" y="154.3" width="208.8" height="118.8" fill="none" stroke="#8c8c8c" stroke-width="0.9"/>
<path d="M557.54 273.1V271M569.14 273.1V271M577.38 273.1V271M583.76 273.1V271M588.98 273.1V271M593.39 273.1V271M597.21 273.1V271M600.58 273.1V271M603.6 273.1V268.8M623.44 273.1V271M635.04 273.1V271M643.28 273.1V271M649.66 273.1V271M654.88 273.1V271M659.29 273.1V271M663.11 273.1V271M666.48 273.1V271M669.5 273.1V268.8M689.34 273.1V271M700.94 273.1V271M709.18 273.1V271M715.56 273.1V271M720.78 273.1V271M725.19 273.1V271M729.01 273.1V271M732.38 273.1V271M735.4 273.1V268.8M755.24 273.1V271M548.4 161.3H552.4M548.4 176.63H552.4M548.4 191.96H552.4M548.4 207.29H552.4M548.4 222.62H552.4M548.4 237.95H552.4M548.4 253.28H552.4M548.4 268.61H552.4" stroke="#222" stroke-width="1" fill="none"/>
<text x="533.72" y="164.17" font-size="8.69" textLength="12.17" lengthAdjust="spacingAndGlyphs" stroke="#1a1a1a" stroke-width="0.36">0.0</text>
<text x="527.31" y="179.5" font-size="8.69" textLength="18.47" lengthAdjust="spacingAndGlyphs" stroke="#1a1a1a" stroke-width="0.36">−0.1</text>
<text x="527.31" y="194.83" font-size="8.69" textLength="18.43" lengthAdjust="spacingAndGlyphs" stroke="#1a1a1a" stroke-width="0.36">−0.2</text>
<text x="527.31" y="210.16" font-size="8.69" textLength="18.5" lengthAdjust="spacingAndGlyphs" stroke="#1a1a1a" stroke-width="0.36">−0.3</text>
<text x="527.31" y="225.49" font-size="8.69" textLength="18.56" lengthAdjust="spacingAndGlyphs" stroke="#1a1a1a" stroke-width="0.36">−0.4</text>
<text x="527.31" y="240.82" font-size="8.69" textLength="18.46" lengthAdjust="spacingAndGlyphs" stroke="#1a1a1a" stroke-width="0.36">−0.5</text>
<text x="527.31" y="256.15" font-size="8.69" textLength="18.66" lengthAdjust="spacingAndGlyphs" stroke="#1a1a1a" stroke-width="0.36">−0.6</text>
<text x="527.31" y="271.48" font-size="8.69" textLength="18.56" lengthAdjust="spacingAndGlyphs" stroke="#1a1a1a" stroke-width="0.36">−0.7</text>
<text x="596.81" y="281.4" font-size="8.69" textLength="9.61" lengthAdjust="spacingAndGlyphs" stroke="#1a1a1a" stroke-width="0.36">10</text>
<text x="607.11" y="278.3" font-size="6.45" textLength="3.42" lengthAdjust="spacingAndGlyphs" stroke="#1a1a1a" stroke-width="0.36">0</text>
<text x="662.71" y="281.4" font-size="8.69" textLength="9.61" lengthAdjust="spacingAndGlyphs" stroke="#1a1a1a" stroke-width="0.36">10</text>
<text x="673.08" y="278.3" font-size="6.45" textLength="3.25" lengthAdjust="spacingAndGlyphs" stroke="#1a1a1a" stroke-width="0.36">1</text>
<text x="728.61" y="281.4" font-size="8.69" textLength="9.61" lengthAdjust="spacingAndGlyphs" stroke="#1a1a1a" stroke-width="0.36">10</text>
<text x="738.88" y="278.3" font-size="6.45" textLength="3.33" lengthAdjust="spacingAndGlyphs" stroke="#1a1a1a" stroke-width="0.36">2</text>
<text x="627.04" y="291.7" font-size="8.83" textLength="51.41" lengthAdjust="spacingAndGlyphs" stroke="#1a1a1a" stroke-width="0.36">Energy (keV)</text>
<g transform="translate(523.3 213.6) rotate(-90)"><text x="-62.37" y="0" font-size="8.83" textLength="124.68" lengthAdjust="spacingAndGlyphs" stroke="#1a1a1a" stroke-width="0.36">QPO &quot;intrinsic&quot; Phase Lag (rad)</text></g>
<text x="618.43" y="217.7" font-size="8.83" textLength="84.03" lengthAdjust="spacingAndGlyphs" stroke="#1a1a1a" stroke-width="0.36">1200120189 (NICER)</text>
<text x="618.25" y="235.5" font-size="8.83" textLength="87.77" lengthAdjust="spacingAndGlyphs" stroke="#1a1a1a" stroke-width="0.36">P0114661078 (HXMT)</text>
<text x="618.23" y="252.8" font-size="8.83" textLength="88.04" lengthAdjust="spacingAndGlyphs" stroke="#1a1a1a" stroke-width="0.36">QPO: 0.419±0.011 Hz</text></g>
</svg>
</div></body></html>
